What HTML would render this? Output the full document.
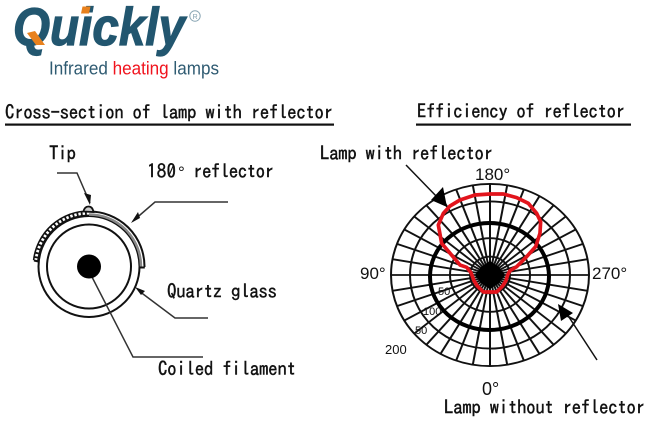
<!DOCTYPE html>
<html><head><meta charset="utf-8">
<style>
html,body{margin:0;padding:0;background:#fff;width:650px;height:422px;overflow:hidden}
svg{display:block}
.g{font-family:"IPAGothic","Liberation Mono",monospace;font-size:19px;fill:#111;stroke:#111;stroke-width:.4px}
.s{font-family:"Liberation Sans",sans-serif;fill:#111}
</style></head><body>
<svg width="650" height="422" viewBox="0 0 650 422" xmlns="http://www.w3.org/2000/svg">
<defs><line id="sp" x1="-99" y1="0" x2="99" y2="0" stroke="#111" stroke-width="2"/></defs>

<!-- Logo -->
<text x="13" y="45" font-family="Liberation Sans,sans-serif" font-weight="bold" font-style="italic" font-size="53" fill="#22566f" stroke="#22566f" stroke-width="1.200" textLength="172" lengthAdjust="spacingAndGlyphs">Quickly</text>
<path d="M27 33 L35 31 L45 45 L36 45 Z" fill="#e8811d"/>
<path d="M82.500 6.500 L90.500 6.500 L89 13.500 L81 13.500 Z" fill="#e8811d"/>
<circle cx="195" cy="16" r="5.200" fill="none" stroke="#8aa6b4" stroke-width="1"/>
<text x="192.600" y="19" font-family="Liberation Sans,sans-serif" font-size="7" fill="#7f9dac">R</text>
<text x="49" y="74.500" font-family="Liberation Sans,sans-serif" font-size="18.500" fill="#2f5b72" textLength="170" lengthAdjust="spacingAndGlyphs">Infrared <tspan fill="#f0141e">heating</tspan> lamps</text>

<!-- Titles -->
<text x="5" y="119" class="g" textLength="328" lengthAdjust="spacing">Cross-section of lamp with reflector</text>
<rect x="5" y="123.500" width="329" height="2.200" fill="#111"/>
<text x="417" y="118" class="g" textLength="208" lengthAdjust="spacing">Efficiency of reflector</text>
<rect x="416" y="123.500" width="215" height="2.200" fill="#111"/>

<!-- Left diagram -->
<g fill="none" stroke="#111">
  <circle cx="89" cy="266.500" r="50.500" stroke-width="2"/>
  <circle cx="89" cy="266.500" r="42" stroke-width="2"/>
  <path d="M35.800 260.500 A53.300 53.300 0 0 1 89 213.200" stroke-width="6"/>
  <path d="M35.800 260.500 A53.300 53.300 0 0 1 89 213.200" stroke="#fff" stroke-width="2.800" stroke-dasharray="2.400 1.800"/>
  <path d="M89 211.500 A55 55 0 0 1 144.500 267" stroke-width="2"/>
  <path d="M89 214.500 A52 52 0 0 1 141 267" stroke="#888" stroke-width="2.500"/>
  <path d="M144.800 267.500 L139.500 267.500" stroke-width="2"/>
  <path d="M34 260.500 L38.500 261.500" stroke-width="2"/>
  <path d="M83.500 211.500 Q84.500 206.500 88.500 206.500 Q92.500 206.500 93.500 212 Z" fill="#ccc" stroke-width="1.800"/>
  <g stroke="#333">
  <path d="M57 173 L77 173 L90 203" stroke-width="1.500"/>
  <path d="M228 202 L155 202 L133 221" stroke-width="1.500"/>
  <path d="M208 318 L175 318 L139 291" stroke-width="1.500"/>
  <path d="M203 357 L133 357 L92 277" stroke-width="1.500"/>
  </g>
</g>
<path d="M90 205 L84 193 L91 195 Z M131 223 L138 212 L140 218 Z M135 287 L145 291 L141 295 Z" fill="#111"/>
<circle cx="89" cy="266.500" r="12" fill="#000"/>
<text x="49" y="160" class="g" textLength="27">Tip</text>
<text x="147" y="178" class="g" textLength="29">180</text>
<text x="178" y="178" class="s" font-size="17">°</text>
<text x="193" y="178" class="g" textLength="81" lengthAdjust="spacing">reflector</text>
<text x="167" y="298" class="g" textLength="110" lengthAdjust="spacing">Quartz glass</text>
<text x="158" y="375.500" class="g" textLength="138" lengthAdjust="spacing">Coiled filament</text>

<!-- Polar chart -->
<g transform="translate(490 275) scale(1 .92)">
  <g fill="none" stroke="#111" stroke-width="2">
    <circle r="20"/><circle r="40"/><circle r="80"/><circle r="99"/>
  </g>
  <use href="#sp"/><use href="#sp" transform="rotate(10)"/><use href="#sp" transform="rotate(20)"/>
  <use href="#sp" transform="rotate(30)"/><use href="#sp" transform="rotate(40)"/><use href="#sp" transform="rotate(50)"/>
  <use href="#sp" transform="rotate(60)"/><use href="#sp" transform="rotate(70)"/><use href="#sp" transform="rotate(80)"/>
  <use href="#sp" transform="rotate(90)"/><use href="#sp" transform="rotate(100)"/><use href="#sp" transform="rotate(110)"/>
  <use href="#sp" transform="rotate(120)"/><use href="#sp" transform="rotate(130)"/><use href="#sp" transform="rotate(140)"/>
  <use href="#sp" transform="rotate(150)"/><use href="#sp" transform="rotate(160)"/><use href="#sp" transform="rotate(170)"/>
</g>
<ellipse cx="489.500" cy="276.500" rx="59.500" ry="53.500" fill="none" stroke="#000" stroke-width="4"/>
<path d="M490 261 L499 267 L505 275 L499 283 L490 289 L481 283 L475 275 L481 267 Z" fill="#000"/>
<path transform="translate(370 150) scale(.3333)" fill="none" stroke="#e2141c" stroke-width="11" stroke-linejoin="round"
 d="M360 132 L400 132 L440 143 L475 160 L500 190 L512 215 L510 250 L497 290 L470 320 L440 350 L420 362 L413 375 L408 392 L398 408 L380 426 L340 426 L322 408 L312 392 L303 368 L290 352 L270 345 L215 280 L205 225 L220 190 L240 168 L270 150 L315 135 Z"/>

<!-- Arrows -->
<path d="M406 165 L438 198" stroke="#111" stroke-width="1.500"/>
<path d="M443 187 L431 200 L447 207 Z" fill="#000"/>
<path d="M597 360 L565 311" stroke="#111" stroke-width="1.500"/>
<path d="M558 304 L573 313 L561 321 Z" fill="#000"/>

<!-- Polar labels -->
<text x="320" y="160" class="g" textLength="173" lengthAdjust="spacing">Lamp with reflector</text>
<text x="475" y="180" class="s" font-size="17">180°</text>
<text x="360" y="279" class="s" font-size="17">90°</text>
<text x="592" y="279" class="s" font-size="17">270°</text>
<text x="482" y="395" class="s" font-size="18">0°</text>
<text x="444" y="414" class="g" textLength="201" lengthAdjust="spacing">Lamp without reflector</text>
<text x="385" y="354" class="s" font-size="13">200</text>
<g class="s" font-size="11">
  <text x="438" y="295">50</text>
  <text x="423" y="315">100</text>
  <text x="415" y="334">50</text>
</g>
</svg>
</body></html>
